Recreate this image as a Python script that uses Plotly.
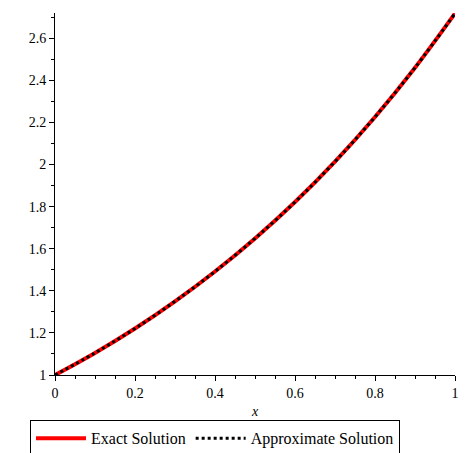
import plotly.graph_objects as go

# values
x_vals = [0, 0.1, 0.2, 0.3, 0.4, 0.5, 0.6, 0.7, 0.8, 0.9, 1.0]
exact_vals = [1.0, 1.105, 1.221, 1.35, 1.492, 1.649, 1.822, 2.014, 2.226, 2.46, 2.718]
approx_vals = [1.0, 1.105, 1.221, 1.35, 1.492, 1.649, 1.822, 2.014, 2.226, 2.46, 2.718]

font = dict(family="Liberation Serif, Times New Roman, serif", size=14, color="black")

fig = go.Figure()
fig.add_trace(go.Scatter(x=x_vals, y=exact_vals, mode="lines", name="Exact Solution",
                         line=dict(color="#ff0000", width=4, shape="spline")))
fig.add_trace(go.Scatter(x=x_vals, y=approx_vals, mode="lines", name="Approximate Solution",
                         line=dict(color="black", width=3, dash="dot", shape="spline")))

axis_common = dict(showgrid=False, zeroline=False, showline=True, linecolor="black",
                   linewidth=1, ticks="outside", ticklen=5, tickcolor="black",
                   tickfont=font, automargin=False,
                   minor=dict(ticks="outside", ticklen=3, nticks=5, tickcolor="black"))

fig.update_xaxes(range=[0, 1], tickvals=[0, 0.2, 0.4, 0.6, 0.8, 1],
                 ticktext=["0", "0.2", "0.4", "0.6", "0.8", "1"],
                 title=dict(text="<i>x</i>", font=font, standoff=6), **axis_common)
fig.update_yaxes(range=[1, 2.72], tickvals=[1, 1.2, 1.4, 1.6, 1.8, 2, 2.2, 2.4, 2.6],
                 ticktext=["1", "1.2", "1.4", "1.6", "1.8", "2", "2.2", "2.4", "2.6"],
                 **axis_common)

fig.update_layout(
    width=474, height=453,
    margin=dict(l=47, r=27, t=5, b=81),
    plot_bgcolor="white", paper_bgcolor="white",
    font=font,
    legend=dict(orientation="h", x=0.4, xanchor="center", y=-0.125, yanchor="top",
                bordercolor="black", borderwidth=1, font=dict(size=16, family=font["family"]),
                itemwidth=50, tracegroupgap=0),
)

fig.write_html("out.html")
